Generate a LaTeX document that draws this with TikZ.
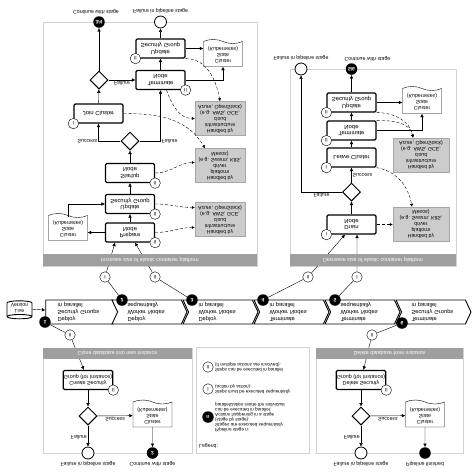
\documentclass[tikz,border=0pt]{standalone}
\usepackage{fontspec}
\setmainfont{Liberation Sans}
\usetikzlibrary{%
    arrows.meta,
    calc,
    positioning,
    shapes.geometric,
    shapes.symbols
}
\tikzset{headarrow/.style = {-{Latex[length=3.5pt,width=3.5pt]}}}
\tikzset{infoarrow/.style = {densely dashed, -{Latex[length=3pt,width=3pt]}}}
\tikzset{%
    action/.style = {draw, line width=1.2pt, rounded corners=1.2pt, fill=white,
        align=center, minimum width=49, minimum height=19, inner sep=0.5pt,
        font=\fontsize{5.9}{6.6}\selectfont},
    check/.style = {diamond, draw, line width=1pt, fill=white, minimum size=18, inner sep=0},
    mode/.style = {circle, draw, fill=white, minimum size=10.5, inner sep=0,
        font=\fontsize{5}{5.5}\selectfont},
    stagenum/.style = {circle, fill=black, text=white, minimum size=11.5, inner sep=0,
        font=\bfseries\fontsize{5}{5.5}\selectfont},
    endstate/.style = {circle, draw, line width=0.8pt, fill=white, minimum size=12, inner sep=0},
    handler/.style = {draw=gray!70, fill=gray!40, minimum width=50, minimum height=34,
        align=center, inner sep=0.5pt, font=\fontsize{5.2}{6}\selectfont},
    statedoc/.style = {tape, tape bend top=none, tape bend height=4pt, draw, fill=white,
        minimum width=39, minimum height=27, align=center, inner sep=0.5pt,
        font=\fontsize{5.2}{6}\selectfont},
    chevron/.style = {signal, signal to=east, signal pointer angle=130, draw,
        line width=0.9pt, fill=white, minimum height=24, minimum width=75,
        text width=44, align=left, inner sep=0, font=\fontsize{5.8}{6.6}\selectfont},
    header/.style = {fill=gray!75, text=white, minimum height=12, inner sep=0,
        font=\fontsize{5.3}{6}\selectfont},
    panel/.style = {draw=gray!35},
    caption/.style = {inner sep=1pt, font=\fontsize{5.2}{6}\selectfont}
}

\begin{document}
\begin{tikzpicture}[x=1pt, y=1pt, yscale=-1,
    every node/.append style={transform shape}]
    \useasboundingbox (0,0) rectangle (474,475);

    % panels
    \draw[panel] (43,22) rectangle (257,266);
    \draw[panel] (290,69) rectangle (456,266);
    \draw[panel] (43,348) rectangle (192,453);
    \draw[panel] (196,347) rectangle (309,453);
    \draw[panel] (316,348) rectangle (463,453);

    % pipeline
    \node[cylinder, shape border rotate=90, draw, line width=0.9pt, aspect=0.25,
        minimum width=25, minimum height=18, align=center, inner sep=0,
        font=\fontsize{5.2}{6}\selectfont] (live) at (19.5,308.5) {Live\\Version};
    \node[chevron, minimum width=73] (st1) at (79.5,312) {Deploy\\Security Groups\\in parallel};
    \foreach \x/\Label in {%
        2/{Deploy\\Worker Nodes\\sequentially},
        3/{Deploy\\Worker Nodes\\in parallel},
        4/{Terminate\\Worker Nodes\\in parallel},
        5/{Terminate\\Worker Nodes\\sequentially},
        6/{Terminate\\Security Groups\\in parallel}%
        }
        \node[chevron, signal from=west] (st\x) at ({78.5+71*(\x-1)},312) {\Label};
    \draw[headarrow] (live) -- (st1);

    \foreach \x/\px/\py in {1/45/322, 2/122/300, 3/192/300, 4/263/300, 5/335/300, 6/402/323}
        \node[stagenum] (n\x) at (\px,\py) {\x};

    % increase size
    \node[action] (prep) at (130,232.5) {Prepare\\Node};
    \node[action] (upsg1) at (130,204) {Update\\Security Group};
    \node[action] (boot) at (130,173) {Startup\\Node};
    \node[check] (ok1) at (130,141) {};
    \node[action] (join) at (98.5,113.5) {Join Cluster};
    \node[check] (ok2) at (99,80) {};
    \node[action] (term1) at (160.5,80) {Terminate\\Node};
    \node[action] (upsg2) at (160.5,48.5) {Update\\Security Group};
    \node[stagenum] (go1) at (99,22) {3/4};
    \node[endstate] (fail1) at (160.5,22) {};
    \node[caption, below=1pt of go1, xshift=-3] (go1-l) {Continue with stage};
    \node[caption, below=1pt of fail1] (fail1-l) {Failure in pipeline stage};
    \node[statedoc] (doc1) at (223,55) {Cluster\\State\\(Kubernetes)};
    \node[statedoc] (doc2) at (68,229) {Cluster\\State\\(Kubernetes)};
    \node[handler] (cloud1) at (220,118.5) {Handled by\\infrastructure\\cloud\\(e.g. AWS, GCE,\\Azure, OpenStack)};
    \node[handler] (driver1) at (220,165.5) {Handled by\\platform\\driver\\(e.g. Swarm, K8S,\\Mesos)};
    \node[handler] (cloud2) at (220,219.5) {Handled by\\infrastructure\\cloud\\(e.g. AWS, GCE,\\Azure, OpenStack)};

    \draw[headarrow] (prep) -- (upsg1);
    \draw[headarrow] (upsg1) -- (boot);
    \draw[headarrow] (boot) -- (ok1);
    \draw[headarrow] (ok1) -| node[caption, left] (ok1-s) {Success} (join);
    \draw[headarrow] (ok1) -| node[caption, right] (ok1-f) {Failure} (term1);
    \draw[headarrow] (join) -- (ok2);
    \draw[headarrow] (ok2) -- (go1);
    \draw[headarrow] (ok2) -- node[caption, above] (ok2-f) {Failure} (term1);
    \draw[headarrow] (term1) -- (upsg2);
    \draw[headarrow] (upsg2) -- (fail1);
    \draw[headarrow] (upsg2.east) -- (upsg2.east -| doc1.west);
    \draw[headarrow] (term1.east) -| (doc1.north);
    \draw[headarrow] (prep.west) -- (prep.west -| doc2.east);
    \draw[headarrow] (doc2.south) |- (upsg1.west);
    \draw[infoarrow] (upsg2.north east) to[out=0, in=-100] (cloud1.south);
    \draw[infoarrow] ([xshift=6]term1.north) to[out=70, in=180] (cloud1.west);
    \draw[infoarrow] (join.east) to[out=0, in=-120] ([xshift=-15]driver1.south);
    \draw[infoarrow] (boot.east) to[out=0, in=180] ([yshift=-3]driver1.west);
    \draw[infoarrow] (upsg1.east) to[out=0, in=180] ([yshift=-12]cloud2.west);
    \draw[infoarrow] (prep.east) to[out=0, in=180] ([yshift=8]cloud2.west);

    \node[mode] (prep-m) at (prep.north east) {II};
    \node[mode] (upsg1-m) at (upsg1.north east) {II};
    \node[mode] (boot-m) at (boot.north east) {II};
    \node[mode] (join-m) at (join.north west) {I};
    \node[mode] (term1-m) at (term1.north east) {II};
    \node[mode] (upsg2-m) at (upsg2.north west) {II};

    % decrease size
    \node[action] (drain) at (351.5,224.5) {Drain\\Node};
    \node[check] (ok3) at (351.5,192) {};
    \node[action] (leave) at (351.5,157.5) {Leave Cluster};
    \node[action] (term2) at (351.5,130.5) {Terminate\\Node};
    \node[action] (upsg3) at (351.5,102.5) {Update\\Security Group};
    \node[stagenum] (go2) at (351.5,69) {5/6};
    \node[endstate] (fail2) at (301,69) {};
    \node[caption, below=1pt of go2, xshift=16] (go2-l) {Continue with stage};
    \node[caption, below=1pt of fail2] (fail2-l) {Failure in pipeline stage};
    \node[statedoc] (doc3) at (422,102) {Cluster\\State\\(Kubernetes)};
    \node[handler, minimum width=56] (cloud3) at (421,155) {Handled by\\infrastructure\\cloud\\(e.g. AWS, GCE,\\Azure, OpenStack)};
    \node[handler, minimum width=56] (driver2) at (421,224) {Handled by\\platform\\driver\\(e.g. Swarm, K8S,\\Mesos)};

    \draw[headarrow] (drain) -- (ok3);
    \draw[headarrow] (ok3) -- node[caption, right] (ok3-s) {Success} (leave);
    \draw[headarrow] (ok3) -| node[caption, above, pos=0.25] (ok3-f) {Failure} (fail2);
    \draw[headarrow] (leave) -- (term2);
    \draw[headarrow] (term2) -- (upsg3);
    \draw[headarrow] (upsg3) -- (go2);
    \draw[headarrow] (upsg3.east) -- (upsg3.east -| doc3.west);
    \draw[headarrow] (term2.east) -| (doc3.north);
    \draw[infoarrow] (drain.east) -- (drain.east -| driver2.west);
    \draw[infoarrow] (leave.north east) to[out=10, in=-100] ([xshift=-9]driver2.south);
    \draw[infoarrow] (upsg3.north east) to[out=0, in=-100] ([xshift=-8]cloud3.south);
    \draw[infoarrow] (term2.south east) to[out=0, in=-100] ([xshift=-8]cloud3.south);

    \node[mode] (drain-m) at (drain.north west) {I};
    \node[mode] (leave-m) at (leave.north west) {I};
    \node[mode] (term2-m) at (term2.north west) {II};
    \node[mode] (upsg3-m) at (upsg3.north west) {II};

    % clone database
    \node[action, font=\fontsize{5.4}{6.2}\selectfont] (mksg) at (88,380) {Create Security\\Group (for Instance)};
    \node[check] (ok4) at (88,416) {};
    \node[statedoc] (doc4) at (152.5,415.5) {Cluster\\State\\(Kubernetes)};
    \node[stagenum] (go3) at (152.5,453) {2};
    \node[endstate] (fail3) at (88,453) {};
    \node[caption, above=1pt of go3] (go3-l) {Continue with stage};
    \node[caption, above=1pt of fail3] (fail3-l) {Failure in pipeline stage};
    \draw[headarrow] (mksg) -- (ok4);
    \draw[headarrow] (ok4) -- node[caption, above] (ok4-s) {Success} (doc4);
    \draw[headarrow] (ok4) -- node[caption, left, pos=0.55] (ok4-f) {Failure} (fail3);
    \draw[headarrow] (doc4) -- (go3);
    \node[mode] (mksg-m) at (mksg.north east) {II};

    % delete database
    \node[action, font=\fontsize{5.4}{6.2}\selectfont] (rmsg) at (361,380) {Delete Security\\Group (for Instance)};
    \node[check] (ok5) at (361,416) {};
    \node[statedoc] (doc5) at (425,415.5) {Cluster\\State\\(Kubernetes)};
    \node[stagenum] (done) at (425,453) {};
    \node[endstate] (fail4) at (361,453) {};
    \node[caption, above=1pt of done] (done-l) {Pipeline finished};
    \node[caption, above=1pt of fail4] (fail4-l) {Failure in pipeline stage};
    \draw[headarrow] (rmsg) -- (ok5);
    \draw[headarrow] (ok5) -- node[caption, above] (ok5-s) {Success} (doc5);
    \draw[headarrow] (ok5) -- node[caption, left, pos=0.55] (ok5-f) {Failure} (fail4);
    \draw[headarrow] (doc5) -- (done);
    \node[mode] (rmsg-m) at (rmsg.north east) {II};

    % legend
    \node[caption, anchor=west] (leg) at (198,446) {Legend:};
    \node[stagenum] (leg-n) at (208,417) {n};
    \node[caption, anchor=west, align=left, font=\fontsize{4.6}{4.9}\selectfont] (leg-nt) at (214,417)
        {Pipeline stage n:\\Stages are executed sequentially\\(stage by stage).\\Actions happening in a stage\\can be executed in parallel;\\parallelization inside the individual};
    \node[mode] (leg-i) at (208,389) {I};
    \node[caption, anchor=west, align=left, font=\fontsize{4.6}{5.2}\selectfont] (leg-it) at (214,389)
        {Steps must be executed sequentially\\(action by action).};
    \node[mode] (leg-ii) at (208,367) {II};
    \node[caption, anchor=west, align=left, font=\fontsize{4.6}{5.2}\selectfont] (leg-iit) at (214,367)
        {Steps can be executed in parallel\\(if multiple actions are involved).};

    % stages into panels
    \node[mode] (via1) at (70,335) {II};
    \node[mode] (via2) at (105,277) {I};
    \node[mode] (via3) at (155,277) {II};
    \node[mode] (via4) at (308,277) {II};
    \node[mode] (via5) at (357,277) {I};
    \node[mode] (via6) at (372,335) {II};
    \draw[headarrow] (n1) -- (via1) -- (mksg);
    \draw[headarrow] (n2) -- (via2) -- ([xshift=-15]prep.north);
    \draw[headarrow] (n3) -- (via3) -- ([xshift=5]prep.north);
    \draw[headarrow] (n4) -- (via4) -- ([xshift=-6.5]drain.north);
    \draw[headarrow] (n5) -- (via5) -- ([xshift=5.5]drain.north);
    \draw[headarrow] (n6) -- (via6) -- (rmsg);

    \node[header, minimum width=214] (bar1) at (150,260) {Increase size of elastic container platform};
    \node[header, minimum width=166] (bar2) at (373,260) {Decrease size of elastic container platform};
    \node[header, minimum width=149, minimum height=11] (bar3) at (117.5,353.5) {Clone database into new instance};
    \node[header, minimum width=147, minimum height=11] (bar4) at (389.5,353) {Delete database from instance};
\end{tikzpicture}
\end{document}
